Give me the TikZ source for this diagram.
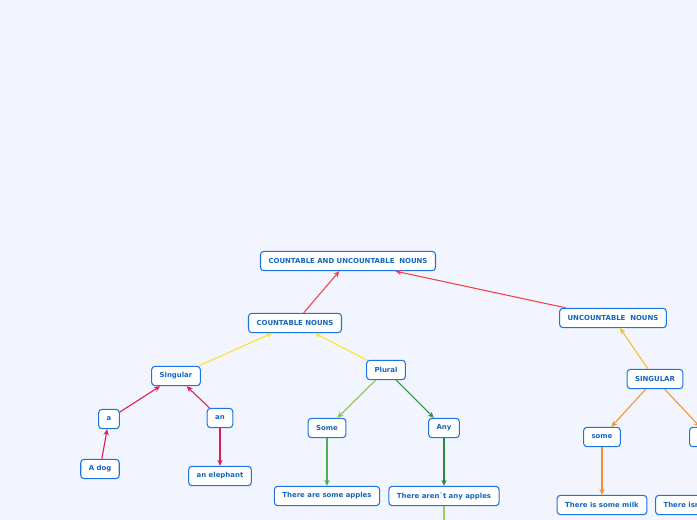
\documentclass[tikz,border=0pt]{standalone}
\usepackage{fontspec}
\setmainfont{DejaVu Sans}
\usetikzlibrary{arrows.meta}
\definecolor{bgcol}{HTML}{F2F5FD}
\definecolor{boxblue}{HTML}{1B74E4}
\definecolor{txtblue}{HTML}{1565C0}
\definecolor{lnred}{HTML}{F2404C}
\definecolor{lnyellow}{HTML}{FDE02E}
\definecolor{lncrimson}{HTML}{E0195A}
\definecolor{lnlime}{HTML}{8BC34A}
\definecolor{lngreen}{HTML}{4CAF50}
\definecolor{lndkgreen}{HTML}{2E8540}
\definecolor{lnpale}{HTML}{9CCC65}
\definecolor{lngold}{HTML}{F9BC2D}
\definecolor{lnorange}{HTML}{F39330}

\begin{document}
\begin{tikzpicture}[
  x=0.75pt, y=-0.75pt,
  topic/.style={rectangle, draw=boxblue, line width=0.8pt, fill=white, rounded corners=2.5pt, align=center, font=\bfseries\fontsize{5.2}{6}\selectfont, text=txtblue, inner xsep=6pt, minimum height=14.5pt},
  line/.style={-{Stealth[length=4.5pt,width=4pt]}, line width=0.8pt}
]
\path[use as bounding box, fill=bgcol] (0,0) rectangle (697,520);
\clip (0,0) rectangle (697,520);

% main topic
\node[topic] (root) at (348,261) {COUNTABLE AND UNCOUNTABLE\ \ NOUNS};
\node[topic] (cnt) at (295,323) {COUNTABLE NOUNS};
\node[topic] (unc) at (613,318) {UNCOUNTABLE\ \ NOUNS};

% countable side
\node[topic] (sing) at (176,376) {Singular};
\node[topic] (plur) at (386,370) {Plural};
\node[topic] (a) at (109,419) {a};
\node[topic] (an) at (220,418) {an};
\node[topic] (dog) at (100,469) {A dog};
\node[topic] (eleph) at (220,476) {an elephant};
\node[topic] (some) at (327,428) {Some};
\node[topic] (any) at (444,428) {Any};
\node[topic] (apples) at (327,496) {There are some apples};
\node[topic] (noapples) at (444,496) {There aren\textasciigrave t any apples};
\coordinate (below) at (444,540);

% uncountable side
\node[topic] (using) at (655,379) {SINGULAR};
\node[topic] (usome) at (602,437) {some};
\node[topic, anchor=west, minimum width=30pt] (uany) at (689,437) {};
\node[topic] (milk) at (602,505) {There is some milk};
\node[topic, anchor=west] (nomilk) at (655,505) {There isn\textasciigrave t any milk};

\draw[line, lnred] (cnt) -- (root);
\draw[line, lnred] (unc) -- (root);
\draw[line, lnyellow] (sing) -- (cnt);
\draw[line, lnyellow] (plur) -- (cnt);
\draw[line, lncrimson] (a) -- (sing);
\draw[line, lncrimson] (an) -- (sing);
\draw[line, lncrimson] (dog) -- (a);
\draw[line, lncrimson] (an) -- (eleph);
\draw[line, lnlime] (plur) -- (some);
\draw[line, lndkgreen!80!lngreen] (plur) -- (any);
\draw[line, lngreen] (some) -- (apples);
\draw[line, lndkgreen] (any) -- (noapples);
\draw[lnpale, line width=0.8pt] (noapples) -- (below);
\draw[line, lngold] (using) -- (unc);
\draw[line, lnorange] (using) -- (usome);
\draw[line, lnorange] (using) -- (uany);
\draw[line, lnorange] (usome) -- (milk);
\end{tikzpicture}
\end{document}
